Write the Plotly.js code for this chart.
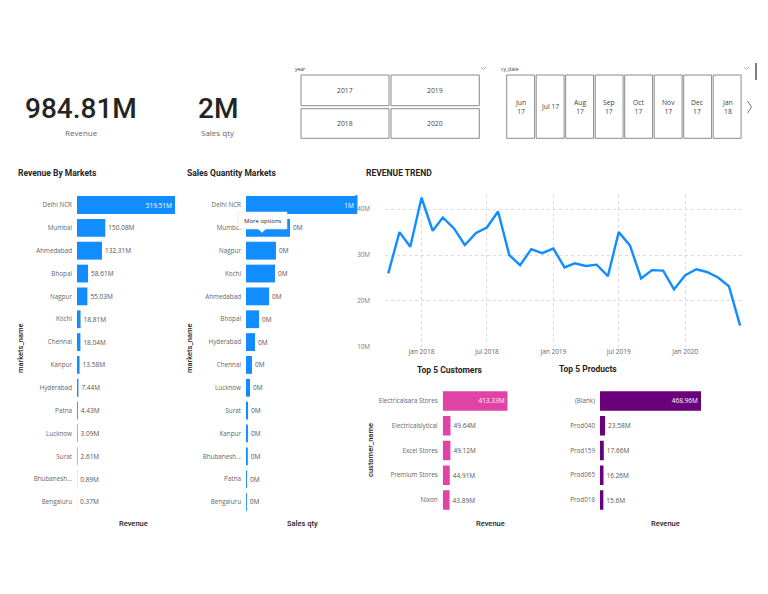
<!DOCTYPE html>
<html>
<head>
<meta charset="utf-8">
<script src="https://cdn.plot.ly/plotly-3.0.1.min.js"></script>
<style>html,body{margin:0;padding:0;background:#fff;}#chart{width:768px;height:594px;}</style>
</head>
<body>
<div id="chart"></div>
<script>
// ---------------- DATA ----------------
const kpiRevenue = 984.81;      // M
const kpiQty = 2;               // M
const years = [2017, 2018, 2019, 2020];
const cyDates = ['Jun 17', 'Jul 17', 'Aug 17', 'Sep 17', 'Oct 17', 'Nov 17', 'Dec 17', 'Jan 18'];

const revMarkets = ['Delhi NCR', 'Mumbai', 'Ahmedabad', 'Bhopal', 'Nagpur', 'Kochi', 'Chennai', 'Kanpur',
  'Hyderabad', 'Patna', 'Lucknow', 'Surat', 'Bhubaneshwar', 'Bengaluru'];
const revValues = [519.51, 150.08, 132.31, 58.61, 55.03, 18.81, 18.04, 13.58, 7.44, 4.43, 3.09, 2.61, 0.89, 0.37];

const qtyMarkets = ['Delhi NCR', 'Mumbai', 'Nagpur', 'Kochi', 'Ahmedabad', 'Bhopal', 'Hyderabad', 'Chennai',
  'Lucknow', 'Surat', 'Kanpur', 'Bhubaneshwar', 'Patna', 'Bengaluru'];
const qtyValues = [800000, 317000, 216000, 209000, 166000, 94000, 65000, 43000, 29000, 15000, 14000, 13000, 7000, 6000];

const trendMonths = ['2017-10-01', '2017-11-01', '2017-12-01', '2018-01-01', '2018-02-01', '2018-03-01', '2018-04-01',
  '2018-05-01', '2018-06-01', '2018-07-01', '2018-08-01', '2018-09-01', '2018-10-01', '2018-11-01', '2018-12-01',
  '2019-01-01', '2019-02-01', '2019-03-01', '2019-04-01', '2019-05-01', '2019-06-01', '2019-07-01', '2019-08-01',
  '2019-09-01', '2019-10-01', '2019-11-01', '2019-12-01', '2020-01-01', '2020-02-01', '2020-03-01', '2020-04-01',
  '2020-05-01', '2020-06-01'];
const trendRevenue = [26.0, 35.0, 31.8, 42.5, 35.3, 38.2, 35.8, 32.2, 34.8, 36.0, 39.5, 30.0, 27.8, 31.3, 30.4,
  31.4, 27.3, 28.2, 27.6, 27.9, 25.4, 35.0, 32.1, 24.9, 26.7, 26.6, 22.5, 25.6, 26.9, 26.3, 25.1, 23.2, 14.6];
const trendTicks = [10, 20, 30, 40];
const trendTickLabels = ['10M', '20M', '30M', '40M'];

const customers = ['Electricalsara Stores', 'Electricalslytical', 'Excel Stores', 'Premium Stores', 'Nixon'];
const customerRevenue = [413.33, 49.64, 49.12, 44.91, 43.89];

const products = ['(Blank)', 'Prod040', 'Prod159', 'Prod065', 'Prod018'];
const productRevenue = [468.96, 23.58, 17.66, 16.26, 15.6];

// ---------------- HELPERS ----------------
const W = 768, H = 594;
const X = p => p / W;
const Y = p => 1 - p / H;
const fmtM = v => parseFloat(v.toFixed(2)) + 'M';
const trunc = s => s.length > 10 ? s.slice(0, 9) + '...' : s;
const BODY = 'Open Sans, DejaVu Sans, sans-serif';
const HEAD = 'Roboto, Liberation Sans, sans-serif';
const BLUE = '#118DFF', PINK = '#E044A7', PURPLE = '#6B007B';

function posFirstInside(n) { return Array.from({length: n}, (_, i) => i === 0 ? 'inside' : 'outside'); }

function hbar(cats, vals, xa, ya, color, texts) {
  return {
    type: 'bar', orientation: 'h', y: cats, x: vals, xaxis: xa, yaxis: ya,
    marker: {color: color, line: {width: 0}},
    text: texts, textposition: posFirstInside(cats.length), insidetextanchor: 'end',
    insidetextfont: {family: BODY, size: 6.5, color: '#ffffff'},
    outsidetextfont: {family: BODY, size: 6.5, color: '#555555'},
    cliponaxis: false, hoverinfo: 'y+x'
  };
}

const data = [
  hbar(revMarkets, revValues, 'x', 'y', BLUE, revValues.map(fmtM)),
  hbar(qtyMarkets, qtyValues, 'x2', 'y2', BLUE, qtyValues.map(v => Math.round(v / 1e6) + 'M')),
  {type: 'scatter', mode: 'lines', x: trendMonths, y: trendRevenue, xaxis: 'x3', yaxis: 'y3',
   line: {color: BLUE, width: 2.4}, cliponaxis: false},
  hbar(customers, customerRevenue, 'x4', 'y4', PINK, customerRevenue.map(fmtM)),
  hbar(products, productRevenue, 'x5', 'y5', PURPLE, productRevenue.map(fmtM))
];

function hiddenX(domain, maxv, anchor) {
  return {domain: domain, anchor: anchor, range: [0, maxv], showgrid: false, zeroline: false, showticklabels: false,
          showline: false, fixedrange: true};
}
function catY(domain, cats, labels, anchor) {
  return {domain: domain, anchor: anchor, autorange: 'reversed', type: 'category', showgrid: false, zeroline: false,
          showline: false, ticks: '', tickvals: cats, ticktext: labels, ticklabelstandoff: 4,
          tickfont: {family: BODY, size: 6.3, color: '#666666'}, fixedrange: true};
}

const barYDom = [Y(513.4), Y(193.6)];
const smallYDom = [Y(512.4), Y(388.6)];

const layout = {
  width: W, height: H, margin: {l: 0, r: 0, t: 0, b: 0},
  paper_bgcolor: '#ffffff', plot_bgcolor: '#ffffff', showlegend: false,
  bargap: 0.22,
  xaxis: hiddenX([X(77), X(175)], Math.max(...revValues), 'y'),
  yaxis: catY(barYDom, revMarkets, revMarkets.map(trunc), 'x'),
  xaxis2: hiddenX([X(246), X(357)], Math.max(...qtyValues), 'y2'),
  yaxis2: catY(barYDom, qtyMarkets, qtyMarkets.map(trunc), 'x2'),
  xaxis3: {domain: [X(385), X(743)], anchor: 'y3', type: 'date', range: ['2017-09-22', '2020-06-09'],
           tick0: '2018-01-01', dtick: 'M6', tickformat: '%b %Y', ticks: '',
           showgrid: true, gridcolor: '#dddddd', griddash: 'dot', zeroline: false, showline: false,
           tickfont: {family: BODY, size: 6.5, color: '#666666'}, fixedrange: true},
  yaxis3: {domain: [Y(346.7), Y(195)], anchor: 'x3', range: [10, 43.1], tickmode: 'array',
           tickvals: trendTicks, ticktext: trendTickLabels,
           ticks: '', showgrid: true, gridcolor: '#dddddd', griddash: 'dot', zeroline: false,
           showline: false, ticklabelstandoff: 14,
           tickfont: {family: BODY, size: 6.3, color: '#777777'}, fixedrange: true},
  xaxis4: hiddenX([X(442.7), X(507.7)], Math.max(...customerRevenue), 'y4'),
  yaxis4: catY(smallYDom, customers, customers, 'x4'),
  xaxis5: hiddenX([X(600), X(701)], Math.max(...productRevenue), 'y5'),
  yaxis5: catY(smallYDom, products, products, 'x5'),
  annotations: [],
  shapes: []
};

const A = layout.annotations, S = layout.shapes;
function txt(x, y, text, size, color, family, opts) {
  A.push(Object.assign({xref: 'paper', yref: 'paper', x: X(x), y: Y(y), text: text, showarrow: false,
    xanchor: 'center', yanchor: 'middle', font: {family: family || BODY, size: size, color: color}}, opts || {}));
}
function rect(x0, y0, x1, y1, color) {
  S.push({type: 'rect', xref: 'paper', yref: 'paper', x0: X(x0), y0: Y(y1), x1: X(x1), y1: Y(y0),
          line: {color: color || '#8a8a8a', width: 1}, fillcolor: 'rgba(0,0,0,0)'});
}
function pathPx(pts, color, width, fill) {
  let d = pts.map((p, i) => (i ? 'L' : 'M') + X(p[0]).toFixed(5) + ',' + Y(p[1]).toFixed(5)).join(' ');
  if (fill) d += ' Z';
  S.push({type: 'path', xref: 'paper', yref: 'paper', path: d, line: {color: color, width: width},
          fillcolor: fill || 'rgba(0,0,0,0)'});
}

// KPI cards
txt(81, 108, kpiRevenue.toFixed(2) + 'M', 28, '#252423', HEAD, {font: {family: HEAD, size: 28, color: '#252423', weight: 500}});
txt(81, 132, 'Revenue', 8, '#666666', BODY);
txt(218, 108, kpiQty + 'M', 28, '#252423', HEAD, {font: {family: HEAD, size: 28, color: '#252423', weight: 500}});
txt(218, 132, 'Sales qty', 8, '#666666', BODY);

// Year slicer
txt(293, 69, 'year', 5, '#333333', BODY, {xanchor: 'left'});
pathPx([[481, 67], [483.5, 69.5], [486, 67]], '#999999', 0.8);
const yCols = [[301, 389], [391, 479.3]];
const yRows = [[75, 105.7], [108.7, 138.3]];
years.forEach((yr, i) => {
  const c = yCols[Math.floor(i / 2)], r = yRows[i % 2];
  rect(c[0], r[0], c[1], r[1]);
  txt((c[0] + c[1]) / 2, (r[0] + r[1]) / 2, String(yr), 6.8, '#444444', BODY);
});

// cy_date slicer
txt(499, 69, 'cy_date', 5, '#333333', BODY, {xanchor: 'left'});
pathPx([[744, 67], [746.5, 69.5], [749, 67]], '#999999', 0.8);
const boxL = 506.7, boxW = 27.9, boxGap = 1.6;
cyDates.forEach((d, i) => {
  const x0 = boxL + i * (boxW + boxGap), x1 = x0 + boxW;
  rect(x0, 75, x1, 138.3);
  const parts = d.split(' ');
  const label = parts[0] === 'Jul' ? d : parts[0] + '<br>' + parts[1];
  txt((x0 + x1) / 2, 106.7, label, 6.8, '#444444', BODY);
});
pathPx([[747.5, 101], [751.5, 107], [747.5, 113]], '#777777', 1);
S.push({type: 'line', xref: 'paper', yref: 'paper', x0: X(756), x1: X(756), y0: Y(63), y1: Y(80),
        line: {color: '#555555', width: 1.5}});

// Chart titles
txt(16, 173.5, '<b>Revenue By Markets</b>', 8.5, '#252423', HEAD, {xanchor: 'left'});
txt(185, 173.5, '<b>Sales Quantity Markets</b>', 8.5, '#252423', HEAD, {xanchor: 'left'});
txt(364, 173.5, '<b>REVENUE TREND</b>', 8.5, '#252423', HEAD, {xanchor: 'left'});
txt(450, 370, '<b>Top 5 Customers</b>', 8.5, '#252423', HEAD);
txt(557, 369, '<b>Top 5 Products</b>', 8.5, '#252423', HEAD, {xanchor: 'left'});

// Axis titles
const AX = {font: {family: HEAD, size: 7.5, color: '#252423', weight: 500}};
txt(133, 523, 'Revenue', 7.5, '#252423', HEAD, AX);
txt(302, 523, 'Sales qty', 7.5, '#252423', HEAD, AX);
txt(490, 523, 'Revenue', 7.5, '#252423', HEAD, AX);
txt(665, 523, 'Revenue', 7.5, '#252423', HEAD, AX);
txt(20, 348, 'markets_name', 7.5, '#252423', HEAD, Object.assign({textangle: -90}, AX));
txt(189, 348, 'markets_name', 7.5, '#252423', HEAD, Object.assign({textangle: -90}, AX));
txt(370, 450, 'customer_name', 7.5, '#252423', HEAD, Object.assign({textangle: -90}, AX));

// focus marker of trend visual
S.push({type: 'line', xref: 'paper', yref: 'paper', x0: X(356.5), x1: X(356.5), y0: Y(195), y1: Y(212.5),
        line: {color: BLUE, width: 2}});

// "More options" tooltip
S.push({type: 'rect', xref: 'paper', yref: 'paper', x0: X(238), x1: X(287), y0: Y(229), y1: Y(212),
        line: {color: '#e3e3e3', width: 0.6}, fillcolor: '#ffffff'});
pathPx([[258, 228.6], [262, 232.5], [266, 228.6]], '#ffffff', 0.5, '#ffffff');
txt(262.5, 220.5, 'More options', 6, '#252423', BODY);

Plotly.newPlot('chart', data, layout, {displayModeBar: false, staticPlot: true});
</script>
</body>
</html>
